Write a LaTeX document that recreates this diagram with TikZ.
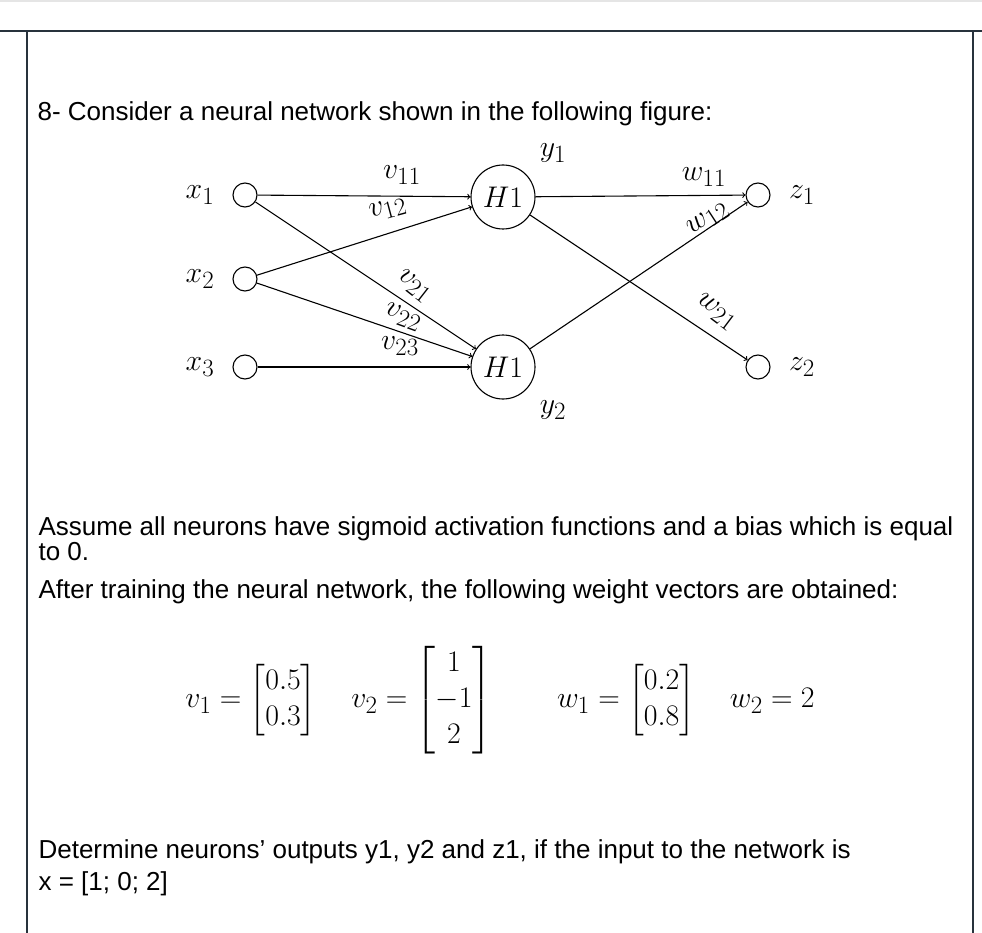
\documentclass[tikz,border=0pt]{standalone}
\usepackage{amsmath}
\usepackage{fontspec}
\setmainfont{Liberation Sans}
\begin{document}
\begin{tikzpicture}[x=1pt,y=-1pt,line width=1.1pt,
  small/.style={circle,draw,minimum size=24pt,inner sep=0pt},
  big/.style={circle,draw,minimum size=64pt,inner sep=0pt},
  lab/.style={font=\Huge,inner sep=1pt,scale=1.2},
  txt/.style={anchor=base west,inner sep=0pt,font=\fontsize{26}{30}\selectfont},
  arr/.style={->,>=to}]
\useasboundingbox (0,0) rectangle (982,933);
\draw[gray!20,line width=2pt] (0,1) -- (982,1);
\draw[line width=1.2pt,color={rgb,255:red,40;green,50;blue,60}] (0,31) -- (982,31);
\draw[line width=1.2pt,color={rgb,255:red,40;green,50;blue,60}] (27,31) -- (27,933) (973,31) -- (973,933);
\node[txt] (t1) at (37,121) {8- Consider a neural network shown in the following figure:};
\node[small] (x1) at (245,195) {};
\node[small] (x2) at (245,279) {};
\node[small] (x3) at (245,367) {};
\node[big] (h1) at (503,197) {};
\node[big] (h2) at (503,367) {};
\node[lab] (th1) at (h1) {$H1$};
\node[lab] (th2) at (h2) {$H1$};
\node[small] (z1) at (758,195) {};
\node[small] (z2) at (758,367) {};
\node[lab] (lx1) at (200,195) {$x_1$};
\node[lab] (lx2) at (200,279) {$x_2$};
\node[lab] (lx3) at (200,367) {$x_3$};
\node[lab] (lz1) at (802,195) {$z_1$};
\node[lab] (lz2) at (802,367) {$z_2$};
\node[lab] (ly1) at (553,153) {$y_1$};
\node[lab] (ly2) at (553,410) {$y_2$};
\draw[arr] (x1) -- (h1);
\draw[arr] (x2) -- (h1);
\draw[arr] (x1) -- (h2);
\draw[arr] (x2) -- (h2);
\draw[arr] (x3) -- (h2);
\draw[arr] (h1) -- (z1);
\draw[arr] (h2) -- (z1);
\draw[arr] (h1) -- (z2);
\node[lab] (v11) at (402,175) {$v_{11}$};
\node[lab,rotate=15] (v12) at (388,209) {$v_{12}$};
\node[lab,rotate=-38] (v21) at (414,286) {$v_{21}$};
\node[lab,rotate=-20] (v22) at (403,317) {$v_{22}$};
\node[lab] (v23) at (400,346) {$v_{23}$};
\node[lab] (w11) at (704,177) {$w_{11}$};
\node[lab,rotate=33] (w12) at (708,219) {$w_{12}$};
\node[lab,rotate=-37] (w21) at (716,312) {$w_{21}$};
\node[txt] (t2) at (38,535) {Assume all neurons have sigmoid activation functions and a bias which is equal};
\node[txt] (t3) at (38,560) {to 0.};
\node[txt] (t4) at (38,598) {After training the neural network, the following weight vectors are obtained:};
\node[lab] (m) at (500,700) {$v_1=\begin{bmatrix}0.5\\0.3\end{bmatrix}\quad v_2=\begin{bmatrix}1\\-1\\2\end{bmatrix}\qquad w_1=\begin{bmatrix}0.2\\0.8\end{bmatrix}\quad w_2=2$};
\node[txt] (t5) at (38,858) {Determine neurons' outputs y1, y2 and z1, if the input to the network is};
\node[txt] (t6) at (38,890) {x = [1; 0; 2]};
\end{tikzpicture}
\end{document}
